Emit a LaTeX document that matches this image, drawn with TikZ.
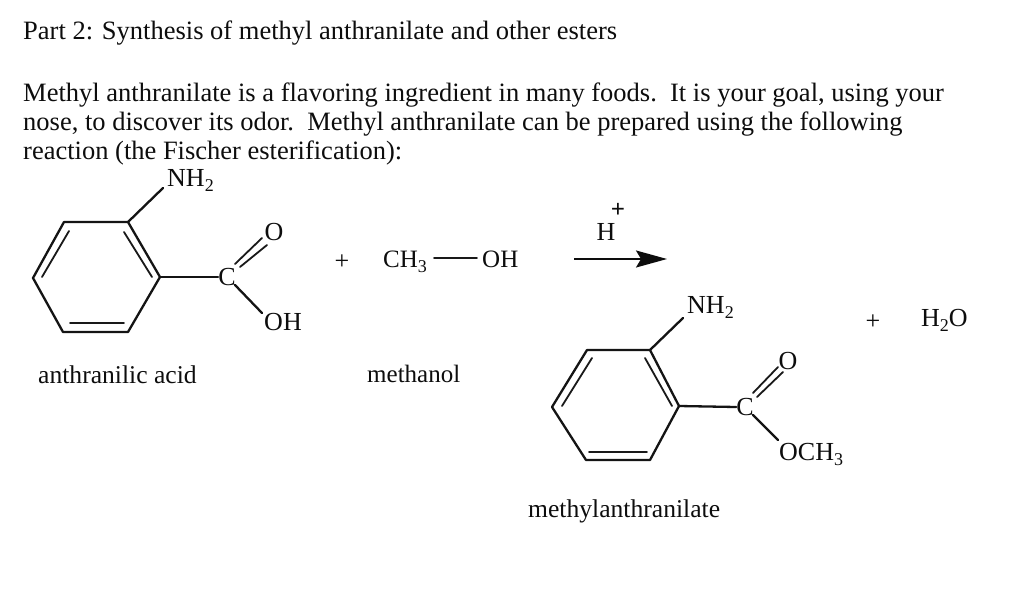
\documentclass[tikz,border=0pt]{standalone}
\usepackage{fontspec}
\setmainfont{Liberation Serif}
\usetikzlibrary{arrows.meta}
\tikzset{
  bond/.style={line width=2.3pt,line cap=round,line join=round,black!92},
  inner/.style={line width=1.8pt,line cap=round,black!90},
  para/.style={anchor=base west,inner sep=0pt,font=\fontsize{26.5}{30}\selectfont,text=black!95},
  atom/.style={inner sep=0pt,font=\fontsize{26}{30}\selectfont,text=black!95},
  chem/.style={anchor=base west,inner sep=0pt,font=\fontsize{26}{30}\selectfont,text=black!95},
  lab/.style={anchor=base west,inner sep=0pt,font=\fontsize{25.6}{30}\selectfont,text=black!95},
}
\newcommand{\subdig}[1]{\raisebox{-5pt}{\fontsize{18}{20}\selectfont #1}}
\begin{document}
\begin{tikzpicture}[x=1pt,y=-1pt]
\useasboundingbox (0,0) rectangle (1024,610);
\fill[white] (0,0) rectangle (1024,610);
% paragraph
\node[para] (t1) at (23,40) {Part 2: Synthesis of methyl anthranilate and other esters};
\node[para] (t2) at (23,101) {Methyl anthranilate is a flavoring ingredient in many foods.\ \ It is your goal, using your};
\node[para] (t3) at (23,130) {nose, to discover its odor.\ \ Methyl anthranilate can be prepared using the following};
\node[para] (t4) at (23,159) {reaction (the Fischer esterification):};
% anthranilic acid
\coordinate (a1) at (128,222); \coordinate (a2) at (64,222); \coordinate (a3) at (33,278);
\coordinate (a4) at (63,332); \coordinate (a5) at (128,332); \coordinate (a6) at (160,277);
\draw[bond] (a1) -- (a2) -- (a3) -- (a4) -- (a5) -- (a6) -- cycle;
\coordinate (ai1) at (69,231); \coordinate (ai2) at (42,277);
\coordinate (ai3) at (124,232); \coordinate (ai4) at (152,277);
\coordinate (ai5) at (70,323); \coordinate (ai6) at (124,323);
\draw[inner] (ai1) -- (ai2); \draw[inner] (ai3) -- (ai4); \draw[inner] (ai5) -- (ai6);
\node[chem] (anh) at (167,186) {NH\subdig{2}};
\coordinate (anhb) at (163,188);
\draw[bond] (a1) -- (anhb);
\node[atom] (ac) at (227,277) {C};
\node[atom] (ao) at (274,232) {O};
\node[atom] (aoh) at (283,322) {OH};
\coordinate (ad1) at (235,264); \coordinate (ad2) at (262,238);
\coordinate (ad3) at (240,267); \coordinate (ad4) at (267,245);
\coordinate (as1) at (235,285); \coordinate (as2) at (262,313);
\draw[bond] (a6) -- (ac.west);
\draw[inner] (ad1) -- (ad2); \draw[inner] (ad3) -- (ad4);
\draw[bond] (as1) -- (as2);
% plus, methanol
\node[atom] (p1) at (342,262) {+};
\node[chem,font=\fontsize{25}{30}\selectfont] (ch3) at (383,267) {CH\subdig{3}};
\node[chem,font=\fontsize{25}{30}\selectfont] (moh) at (482,267) {OH};
\coordinate (mb1) at (434,258); \coordinate (mb2) at (477,258);
\draw[inner] (mb1) -- (mb2);
% arrow
\node[atom] (hh) at (606,232) {H};
\node[atom,font=\bfseries\fontsize{25}{27}\selectfont] (hp) at (618,210) {+};
\coordinate (ar1) at (574,259); \coordinate (ar2) at (667,259);
\draw[line width=1.8pt,-{Stealth[length=31pt,width=17pt,inset=5pt]},black!95] (ar1) -- (ar2);
% methyl anthranilate
\coordinate (b1) at (650,350); \coordinate (b2) at (587,350); \coordinate (b3) at (552,407);
\coordinate (b4) at (586,460); \coordinate (b5) at (650,460); \coordinate (b6) at (679,406);
\draw[bond] (b1) -- (b2) -- (b3) -- (b4) -- (b5) -- (b6) -- cycle;
\coordinate (bi1) at (592,358); \coordinate (bi2) at (562,406);
\coordinate (bi3) at (645,358); \coordinate (bi4) at (672,406);
\coordinate (bi5) at (589,452); \coordinate (bi6) at (647,452);
\draw[inner] (bi1) -- (bi2); \draw[inner] (bi3) -- (bi4); \draw[inner] (bi5) -- (bi6);
\node[chem] (bnh) at (687,313) {NH\subdig{2}};
\coordinate (bnhb) at (683,318);
\draw[bond] (b1) -- (bnhb);
\node[atom] (bc) at (745,407) {C};
\node[atom] (bo) at (788,361) {O};
\node[chem] (boc) at (779,460) {OCH\subdig{3}};
\coordinate (bd1) at (753,393); \coordinate (bd2) at (778,367);
\coordinate (bd3) at (757,397); \coordinate (bd4) at (783,372);
\coordinate (bs1) at (753,415); \coordinate (bs2) at (778,440);
\draw[bond] (b6) -- (bc.west);
\draw[inner] (bd1) -- (bd2); \draw[inner] (bd3) -- (bd4);
\draw[bond] (bs1) -- (bs2);
% water
\node[atom] (p2) at (873,322) {+};
\node[chem] (w) at (921,326) {H\subdig{2}O};
% labels
\node[lab] (l1) at (38,383) {anthranilic acid};
\node[lab,font=\fontsize{25}{30}\selectfont] (l2) at (367,382) {methanol};
\node[lab] (l3) at (528,517) {methylanthranilate};
\end{tikzpicture}
\end{document}
